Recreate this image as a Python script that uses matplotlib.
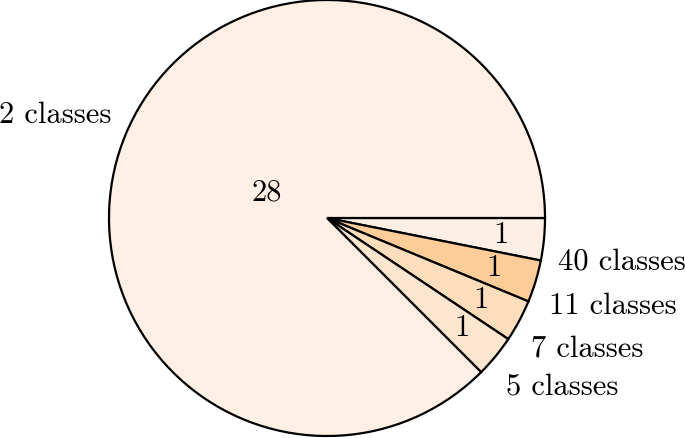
import numpy as np
import matplotlib
matplotlib.use("Agg")
import matplotlib.pyplot as plt

# donnees
labels = ["40 classes", "11 classes", "7 classes", "5 classes", "2 classes"]
counts = [1, 1, 1, 1, 28]
colors = ["#fdefe3", "#fdcc98", "#fdddbb", "#fde6cf", "#fef0e4"]

plt.rcParams['font.family'] = 'cmr10'
plt.rcParams['axes.formatter.use_mathtext'] = True
FS = 22

fig = plt.figure(figsize=(6.85, 4.38), dpi=100)
ax = fig.add_axes([0, 0, 1, 1])

wedges, _ = ax.pie(counts, colors=colors, startangle=0, counterclock=False,
                   radius=1.0, wedgeprops=dict(edgecolor="black", linewidth=1.6))

for w, lab, n in zip(wedges, labels, counts):
    mid = np.deg2rad((w.theta1 + w.theta2) / 2)
    # valeur dans la part
    r_in = 0.30 if n > 1 else 0.80
    ax.text(r_in * np.cos(mid), r_in * np.sin(mid), str(n),
            ha="center", va="center", fontsize=FS)
    # etiquette a l'exterieur
    if n > 1:
        ax.annotate(lab, (1.1 * np.cos(mid), 1.1 * np.sin(mid)),
                    xytext=(4, -2), textcoords="offset points",
                    ha="right", va="bottom", fontsize=FS)
    else:
        ax.annotate(lab, (1.07 * np.cos(mid), 1.07 * np.sin(mid)),
                    xytext=(-1, -5), textcoords="offset points",
                    ha="left", va="top", fontsize=FS)

ax.set_xlim(-327 / 218, 358 / 218)
ax.set_ylim(-220 / 218, 218 / 218)
ax.set_aspect("equal")
ax.axis("off")

fig.savefig("out.png", dpi=100)
